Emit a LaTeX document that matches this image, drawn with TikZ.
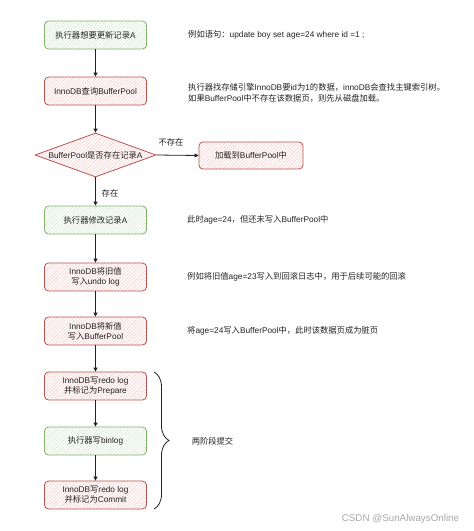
\documentclass[tikz,border=0pt]{standalone}
\usepackage{fontspec}
\setmainfont{Liberation Sans}
\newfontfamily\cjk{Noto Sans CJK SC}
\usetikzlibrary{arrows.meta,shapes.geometric,patterns.meta,decorations.pathreplacing}
% automatic switch to the CJK font for CJK characters
\newXeTeXintercharclass\CJKcls
\newcount\mycnt
\mycnt="3000 \loop \XeTeXcharclass\mycnt=\CJKcls \ifnum\mycnt<"303F \advance\mycnt 1 \repeat
\mycnt="4E00 \loop \XeTeXcharclass\mycnt=\CJKcls \ifnum\mycnt<"9FFF \advance\mycnt 1 \repeat
\mycnt="FF00 \loop \XeTeXcharclass\mycnt=\CJKcls \ifnum\mycnt<"FFEF \advance\mycnt 1 \repeat
\XeTeXinterchartoks 0 \CJKcls={\begingroup\cjk}
\XeTeXinterchartoks 4095 \CJKcls={\begingroup\cjk}
\XeTeXinterchartoks \CJKcls 0={\endgroup}
\XeTeXinterchartoks \CJKcls 4095={\endgroup}
\XeTeXinterchartokenstate=1
\definecolor{gline}{HTML}{82B366}
\definecolor{gfill}{HTML}{D5E8D4}
\definecolor{rline}{HTML}{B85450}
\definecolor{rfill}{HTML}{F8CECC}
\definecolor{txt}{HTML}{222222}
\definecolor{wm}{HTML}{A8A8A8}
\tikzset{
  base/.style={align=center, text=txt, font=\fontsize{8.3}{10}\selectfont, inner sep=0pt, line width=0.8pt},
  gbox/.style={base, rectangle, rounded corners=4pt, minimum width=102pt, minimum height=28pt,
     draw=gline, preaction={fill=white}, pattern={Lines[angle=45,distance=2.4pt,line width=0.6pt]}, pattern color=gfill},
  rbox/.style={base, rectangle, rounded corners=4pt, minimum width=102pt, minimum height=28pt,
     draw=rline, preaction={fill=white}, pattern={Lines[angle=45,distance=2.4pt,line width=0.6pt]}, pattern color=rfill},
  rdia/.style={base, diamond, minimum width=121pt, minimum height=44pt, inner sep=0pt, aspect=2.75,
     draw=rline, preaction={fill=white}, pattern={Lines[angle=45,distance=2.4pt,line width=0.6pt]}, pattern color=rfill},
  note/.style={align=left, anchor=west, text=txt, font=\fontsize{8.3}{11}\selectfont, inner sep=0pt},
  lbl/.style={text=txt, font=\fontsize{8.3}{10}\selectfont, inner sep=0pt},
  arr/.style={draw=txt, line width=0.8pt, -{Triangle[length=4pt,width=4pt]}},
}
\begin{document}
\begin{tikzpicture}[x=1pt,y=-1pt]
\useasboundingbox (0,0) rectangle (474,531);
\node[gbox] (a1) at (95.5,35) {执行器想要更新记录A};
\node[rbox] (a2) at (95.5,91) {InnoDB查询BufferPool};
\node[rdia] (d) at (95.5,155) {BufferPool是否存在记录A};
\node[rbox, minimum width=104pt, minimum height=27pt] (ld) at (251,155.5) {加载到BufferPool中};
\node[gbox] (a3) at (95.5,220) {执行器修改记录A};
\node[rbox] (a4) at (95.5,277) {InnoDB将旧值\\写入undo log};
\node[rbox] (a5) at (95.5,331) {InnoDB将新值\\写入BufferPool};
\node[rbox] (a6) at (95.5,386) {InnoDB写redo log\\并标记为Prepare};
\node[gbox] (a7) at (95.5,441) {执行器写binlog};
\node[rbox] (a8) at (95.5,495) {InnoDB写redo log\\并标记为Commit};

\draw[arr] (a1) -- (a2);
\draw[arr] (a2) -- (d);
\draw[arr] (d.east) -- (ld.west);
\draw[arr] (d) -- (a3);
\draw[arr] (a3) -- (a4);
\draw[arr] (a4) -- (a5);
\draw[arr] (a5) -- (a6);
\draw[arr] (a6) -- (a7);
\draw[arr] (a7) -- (a8);

\node[lbl] (no) at (171,142) {不存在};
\node[lbl] (yes) at (110,193) {存在};

\node[note] (n1) at (188,35) {例如语句：update boy set age=24 where id =1 ;};
\node[note] (n2) at (188,92.5) {执行器找存储引擎InnoDB要id为1的数据，innoDB会查找主键索引树。\\如果BufferPool中不存在该数据页，则先从磁盘加载。};
\node[note] (n3) at (187,220) {此时age=24，但还未写入BufferPool中};
\node[note] (n4) at (187,277) {例如将旧值age=23写入到回滚日志中，用于后续可能的回滚};
\node[note] (n5) at (187,331) {将age=24写入BufferPool中，此时该数据页成为脏页};

\coordinate (bt) at (154,372);
\coordinate (bb) at (154,509);
\draw[txt, line width=0.8pt, decorate, decoration={brace, amplitude=15pt}] (bt) -- (bb);
\node[lbl] (two) at (212.5,441) {两阶段提交};

\node[text=wm, font=\fontsize{9.8}{11}\selectfont, inner sep=0pt] (wmk) at (400.5,519) {CSDN @SunAlwaysOnline};
\end{tikzpicture}
\end{document}
